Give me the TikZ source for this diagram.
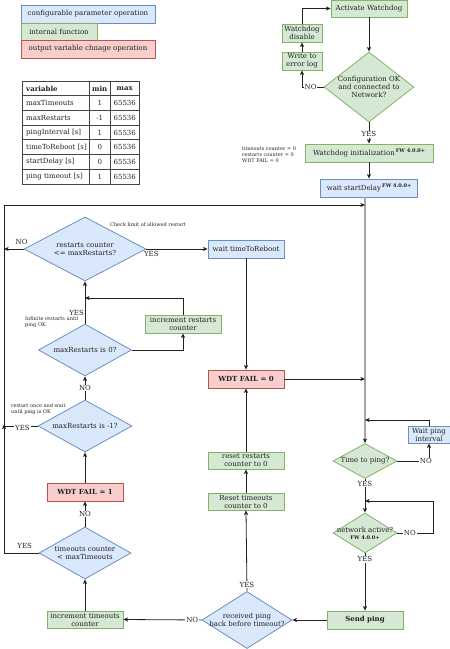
\documentclass[tikz,border=0pt]{standalone}
\usepackage{fontspec}
\setmainfont{DejaVu Serif}
\usetikzlibrary{shapes.geometric,arrows.meta,calc}
\definecolor{bfill}{HTML}{DAE8FC}
\definecolor{bdraw}{HTML}{6C8EBF}
\definecolor{gfill}{HTML}{D5E8D4}
\definecolor{gdraw}{HTML}{82B366}
\definecolor{rfill}{HTML}{F8CECC}
\definecolor{rdraw}{HTML}{B85450}
\definecolor{ink}{HTML}{222222}
\definecolor{tline}{HTML}{444444}
\definecolor{gline}{HTML}{A6A6A6}
\newcommand{\fwsup}{\,\raisebox{2.2pt}{\fontsize{5}{6}\selectfont\bfseries FW 4.0.0+}}
\begin{document}
\begin{tikzpicture}[x=1pt,y=-1pt,
  font=\fontsize{7}{8}\selectfont, text=ink,
  boxbase/.style={draw, line width=0.8pt, inner sep=0pt, align=center},
  bbox/.style={boxbase, fill=bfill, draw=bdraw},
  gbox/.style={boxbase, fill=gfill, draw=gdraw},
  rbox/.style={boxbase, fill=rfill, draw=rdraw},
  dia/.style={diamond, draw, line width=0.8pt, inner sep=0pt},
  bdia/.style={dia, fill=bfill, draw=bdraw},
  gdia/.style={dia, fill=gfill, draw=gdraw},
  dtext/.style={align=center, inner sep=0pt},
  arr/.style={draw=ink, line width=0.8pt, -{Stealth[length=4.5pt,width=4pt,inset=1pt]}},
  plain/.style={draw=ink, line width=0.8pt},
  greyline/.style={draw=gline, line width=1.7pt, -{Stealth[length=4.5pt,width=4pt,inset=1pt,color=ink]}},
  lbl/.style={fill=white, inner sep=0.8pt},
  nlbl/.style={inner sep=0.8pt},
  note/.style={font=\fontsize{5}{6}\selectfont, align=left, inner sep=0pt, anchor=west},
  tcell/.style={inner sep=0pt}
]
\useasboundingbox (0,0) rectangle (450,649);

% ---------- legend ----------
\node[bbox, minimum width=134pt, minimum height=18pt] (legb) at (88,14) {configurable parameter operation};
\node[gbox, minimum width=76pt, minimum height=17pt] (legg) at (59,31.5) {internal function};
\node[rbox, minimum width=134pt, minimum height=18pt] (legr) at (88,49) {output variable chnage operation};

% ---------- table ----------
\draw[tline, line width=0.8pt] (22,81) rectangle (139,184);
\draw[tline, line width=0.8pt] (89,81) -- (89,184) (110.5,81) -- (110.5,184);
\foreach \k in {1,...,6}{
  \pgfmathsetmacro{\yy}{81+14.714*\k}
  \draw[tline, line width=0.8pt] (22,\yy) -- (139,\yy);
}
\node[tcell, anchor=west] (th1) at (26,88.4) {\bfseries variable};
\node[tcell] (th2) at (99.75,88.4) {\bfseries min};
\node[tcell] (th3) at (124.75,88.4) {\bfseries max};
\foreach \a/\b/\c [count=\i] in {maxTimeouts/1/65536, maxRestarts/-1/65536, pingInterval {[s]}/1/65536, timeToReboot {[s]}/0/65536, startDelay {[s]}/0/65536, ping timeout {[s]}/1/65536}{
  \pgfmathsetmacro{\yy}{81+14.714*(\i+0.5)}
  \node[tcell, anchor=west] (ta\i) at (26,\yy) {\a};
  \node[tcell] (tb\i) at (99.75,\yy) {\b};
  \node[tcell] (tc\i) at (124.75,\yy) {\c};
}

% ---------- top right ----------
\node[gbox, minimum width=76pt, minimum height=17pt] (act) at (369,8.5) {Activate Watchdog};
\node[gbox, minimum width=40pt, minimum height=18pt] (wdis) at (302,33) {Watchdog\\disable};
\node[gbox, minimum width=40pt, minimum height=18pt] (wlog) at (302,61) {Write to\\error log};
\node[gdia, minimum width=90pt, minimum height=70pt] (cfg) at (369,87) {};
\node[dtext] (cfgt) at (cfg.center) {Configuration OK\\and connected to\\Network?};
\node[gbox, minimum width=128pt, minimum height=18pt] (winit) at (369,153) {Watchdog initialization\fwsup};
\node[note] (ann1) at (242,154.5) {timeouts counter = 0\\restarts counter = 0\\WDT FAIL = 0};
\node[bbox, minimum width=97pt, minimum height=18pt] (wsd) at (369,188) {wait startDelay\fwsup};

% ---------- left column ----------
\node[bdia, minimum width=122pt, minimum height=64pt] (rc) at (85,249) {};
\node[dtext] (rct) at (rc.center) {restarts counter\\<= maxRestarts?};
\node[note] (ann2) at (110,224.5) {Check limit of allowed restart};
\node[bbox, minimum width=76pt, minimum height=18pt] (wtr) at (246,249) {wait timeToReboot};
\node[gbox, minimum width=76pt, minimum height=18pt] (incr) at (183,324) {increment restarts\\counter};
\node[note] (ann3) at (25,322) {Infinite restarts until\\ping OK};
\node[bdia, minimum width=93pt, minimum height=52pt] (mr0) at (85,350) {};
\node[dtext] (mr0t) at (mr0.center) {maxRestarts is 0?};
\node[note] (ann4) at (11,409.5) {restart once and wait\\until ping is OK};
\node[bdia, minimum width=94pt, minimum height=52pt] (mrm) at (85,426) {};
\node[dtext] (mrmt) at (mrm.center) {maxRestarts is -1?};
\node[rbox, minimum width=76pt, minimum height=18pt] (wdt1) at (85,492) {\bfseries WDT FAIL = 1};
\node[bdia, minimum width=92pt, minimum height=52pt] (tc) at (85,553) {};
\node[dtext] (tct) at (tc.center) {timeouts counter\\< maxTimeouts};
\node[gbox, minimum width=76pt, minimum height=17pt] (inct) at (85,619.5) {increment timeouts\\counter};

% ---------- middle column ----------
\node[rbox, minimum width=76pt, minimum height=18pt] (wdt0) at (246,379) {\bfseries WDT FAIL = 0};
\node[gbox, minimum width=76pt, minimum height=17pt] (rrc) at (246,460.5) {reset restarts\\counter to 0};
\node[gbox, minimum width=76pt, minimum height=17pt] (rtc) at (246,501.5) {Reset timeouts\\counter to 0};
\node[bdia, minimum width=90pt, minimum height=57pt] (rp) at (247,620) {};
\node[dtext] (rpt) at (rp.center) {received ping\\back before timeout?};

% ---------- right column ----------
\node[gdia, minimum width=64pt, minimum height=35pt] (ttp) at (365,461) {};
\node[dtext] (ttpt) at (ttp.center) {Time to ping?};
\node[bbox, minimum width=42pt, minimum height=17pt] (wpi) at (429,434.5) {Wait ping\\interval};
\node[gdia, minimum width=64pt, minimum height=40pt] (net) at (365,533) {};
\node[dtext] (nett) at (net.center) {network active?\\[-1pt]{\fontsize{5}{6}\selectfont\bfseries FW 4.0.0+}};
\node[gbox, minimum width=76pt, minimum height=18pt] (send) at (365,620) {\bfseries Send ping};

% ---------- junction coordinates ----------
\coordinate (lt) at (4,205);
\coordinate (lb) at (4,553);
\coordinate (lm) at (4,426);
\coordinate (lr) at (4,249);
\coordinate (j0) at (365,205);
\coordinate (j1) at (365,420);
\coordinate (j2) at (365,501);
\coordinate (j3) at (85,298);
\coordinate (nr) at (433,533);

% ---------- connectors: top right ----------
\draw[arr] (act.south) -- (cfg.north);
\draw[arr] (cfg.west) -| node[lbl, pos=0.3] {NO} (wlog.south);
\draw[arr] (wlog.north) -- (wdis.south);
\draw[arr] (wdis.north) |- (act.west);
\draw[arr] (cfg.south) -- node[lbl, pos=0.55] {YES} (winit.north);
\draw[arr] (winit.south) -- (wsd.north);
\draw[greyline] (ttp.north |- wsd.south) -- (ttp.north);

% ---------- connectors: left loop ----------
\draw[arr] (tc.west) -- node[nlbl, above, pos=0.4, yshift=3pt] {YES} (lb) -- (lt) -- (j0);
\draw[arr] (rc.west) -- node[nlbl, above, pos=0.1, yshift=3pt] {NO} (lr);
\draw[arr] (rc.east) -- node[nlbl, below, pos=0.08, yshift=-1pt] {YES} (wtr.west);
\draw[arr] (wtr.south) -- (wdt0.north);
\draw[arr] (wdt0.east) -- (wdt0.east -| j0);
\draw[arr] (mr0.north) -- node[nlbl, left, pos=0.25] {YES} (rc.south);
\draw[arr] (incr.north) |- (j3);
\draw[arr] (mr0.east) -| (incr.south);
\draw[arr] (mrm.north) -- node[lbl] {NO} (mr0.south);
\draw[arr] (mrm.west) -- node[lbl, pos=0.45, yshift=-2pt] {YES} (lm) -- ++(0,-1.5);
\draw[arr] (wdt1.north) -- (mrm.south);
\draw[arr] (tc.north) -- node[lbl] {NO} (wdt1.south);
\draw[arr] (inct.north) -- (tc.south);

% ---------- connectors: middle / right ----------
\draw[arr] (rp.west) -- node[lbl, pos=0.12] {NO} (inct.east);
\draw[arr] (rp.north) -- node[lbl, pos=0.08] {YES} (rtc.south);
\draw[arr] (rtc.north) -- (rrc.south);
\draw[arr] (rrc.north) -- (wdt0.south);
\draw[arr] (send.west) -- (rp.east);
\draw[arr] (wpi.north) |- (j1);
\draw[arr] (ttp.east) -| node[lbl, pos=0.45] {NO} (wpi.south);
\draw[arr] (ttp.south) -- node[lbl, pos=0.15] {YES} (net.north);
\draw[arr] (net.east) -- node[lbl, pos=0.35] {NO} (nr) |- (j2);
\draw[arr] (net.south) -- node[lbl, pos=0.1] {YES} (send.north);
\end{tikzpicture}
\end{document}
